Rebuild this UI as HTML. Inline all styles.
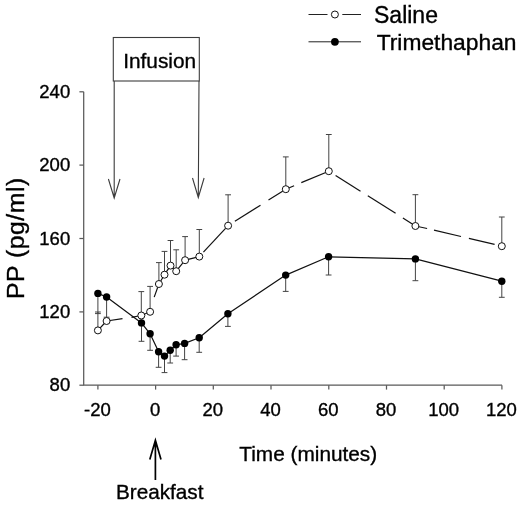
<!DOCTYPE html>
<html><head><meta charset="utf-8"><title>PP chart</title>
<style>html,body{margin:0;padding:0;background:#fff}svg{display:block}text{font-family:"Liberation Sans",Arial,Helvetica,sans-serif;fill:#000;stroke:#000;stroke-width:0.35px}</style></head><body>
<svg width="520" height="507" viewBox="0 0 520 507">
<rect width="520" height="507" fill="#fff"/>
<g stroke="#5a5a5a" stroke-width="1.25" fill="none">
<path d="M83.7,91.8V385.2H502"/>
<path d="M79.4,385.2H83.7"/>
<path d="M79.4,311.9H83.7"/>
<path d="M79.4,238.5H83.7"/>
<path d="M79.4,165.1H83.7"/>
<path d="M79.4,91.8H83.7"/>
<path d="M97.9,385.2V389.6"/>
<path d="M155.6,385.2V389.6"/>
<path d="M213.3,385.2V389.6"/>
<path d="M271.0,385.2V389.6"/>
<path d="M328.8,385.2V389.6"/>
<path d="M386.5,385.2V389.6"/>
<path d="M444.2,385.2V389.6"/>
<path d="M501.9,385.2V389.6"/>
</g>
<g stroke="#3c3c3c" stroke-width="1.1" fill="none">
<rect x="113.3" y="37.5" width="86" height="43.5"/>
<path d="M114.2,81V198M108.4,179L114.2,198L120,179"/>
<path d="M199,81L198.3,197.5M192.5,178L198.3,197.5L204.1,178"/>
</g>
<g stroke="#444" stroke-width="1" fill="none">
<path d="M97.9,330.4V312.0M95.0,312.0H100.8"/>
<path d="M141.3,315.5V291.6M138.4,291.6H144.2"/>
<path d="M150.1,311.8V286.4M147.2,286.4H153.0"/>
<path d="M158.9,284.0V262.6M156.0,262.6H161.8"/>
<path d="M164.5,274.7V251.4M161.6,251.4H167.4"/>
<path d="M170.5,265.6V240.5M167.6,240.5H173.4"/>
<path d="M176.2,271.2V249.8M173.3,249.8H179.1"/>
<path d="M185.1,260.2V236.6M182.2,236.6H188.0"/>
<path d="M199.3,256.6V229.5M196.4,229.5H202.2"/>
<path d="M228.1,225.7V194.8M225.2,194.8H231.0"/>
<path d="M285.8,189.2V156.9M282.9,156.9H288.7"/>
<path d="M328.8,171.2V134.5M325.9,134.5H331.7"/>
<path d="M415.4,226.0V194.7M412.5,194.7H418.3"/>
<path d="M501.8,246.2V217.0M498.9,217.0H504.7"/>
<path d="M97.9,293.4V313.6M95.0,313.6H100.8"/>
<path d="M106.6,297.0V317.2M103.7,317.2H109.5"/>
<path d="M141.5,322.9V341.3M138.6,341.3H144.4"/>
<path d="M150.1,333.8V350.3M147.2,350.3H153.0"/>
<path d="M158.6,351.8V367.3M155.7,367.3H161.5"/>
<path d="M164.5,356.1V372.6M161.6,372.6H167.4"/>
<path d="M170.2,350.3V363.0M167.3,363.0H173.1"/>
<path d="M176.1,344.8V356.1M173.2,356.1H179.0"/>
<path d="M184.6,343.4V359.7M181.7,359.7H187.5"/>
<path d="M199.2,337.7V352.3M196.3,352.3H202.1"/>
<path d="M227.9,313.8V326.4M225.0,326.4H230.8"/>
<path d="M285.7,275.1V291.4M282.8,291.4H288.6"/>
<path d="M328.6,256.8V275.0M325.7,275.0H331.5"/>
<path d="M415.4,258.9V280.7M412.5,280.7H418.3"/>
<path d="M501.8,281.2V297.3M498.9,297.3H504.7"/>
</g>
<g stroke="#111" stroke-width="1.2" fill="none" stroke-linejoin="round">
<polyline points="97.9,293.4 106.6,297.0 141.5,322.9 150.1,333.8 158.6,351.8 164.5,356.1 170.2,350.3 176.1,344.8 184.6,343.4 199.2,337.7 227.9,313.8 285.7,275.1 328.6,256.8 415.4,258.9 501.8,281.2"/>
<polyline points="97.9,330.4 106.6,321.0 122.5,318.7"/>
<polyline points="131.5,317.3 141.3,315.5 150.1,311.8"/>
<polyline points="154.2,297.1 158.9,284.0 164.5,274.7 170.5,265.6 176.2,271.2 185.1,260.2 199.3,256.6"/>
<polyline points="203.4,252.2 228.1,225.7"/>
<polyline points="234.9,221.2 260.5,205.2"/>
<polyline points="268.5,200.1 285.8,189.2 294.1,185.7"/>
<polyline points="301.3,182.6 328.8,171.2"/>
<polyline points="335.6,175.5 360.5,191.2"/>
<polyline points="367.8,195.7 395.6,213.3"/>
<polyline points="402.9,217.9 415.4,226.0 427.1,228.5"/>
<polyline points="434.0,230.1 461.0,236.5"/>
<polyline points="468.9,238.3 494.6,244.3"/>
</g>
<g stroke="#111" stroke-width="1" fill="#fff">
<circle cx="97.9" cy="330.4" r="3.5"/>
<circle cx="106.6" cy="321.0" r="3.5"/>
<circle cx="141.3" cy="315.5" r="3.5"/>
<circle cx="150.1" cy="311.8" r="3.5"/>
<circle cx="158.9" cy="284.0" r="3.5"/>
<circle cx="164.5" cy="274.7" r="3.5"/>
<circle cx="170.5" cy="265.6" r="3.5"/>
<circle cx="176.2" cy="271.2" r="3.5"/>
<circle cx="185.1" cy="260.2" r="3.5"/>
<circle cx="199.3" cy="256.6" r="3.5"/>
<circle cx="228.1" cy="225.7" r="3.5"/>
<circle cx="285.8" cy="189.2" r="3.5"/>
<circle cx="328.8" cy="171.2" r="3.5"/>
<circle cx="415.4" cy="226.0" r="3.5"/>
<circle cx="501.8" cy="246.2" r="3.5"/>
</g><g fill="#000">
<circle cx="97.9" cy="293.4" r="3.7"/>
<circle cx="106.6" cy="297.0" r="3.7"/>
<circle cx="141.5" cy="322.9" r="3.7"/>
<circle cx="150.1" cy="333.8" r="3.7"/>
<circle cx="158.6" cy="351.8" r="3.7"/>
<circle cx="164.5" cy="356.1" r="3.7"/>
<circle cx="170.2" cy="350.3" r="3.7"/>
<circle cx="176.1" cy="344.8" r="3.7"/>
<circle cx="184.6" cy="343.4" r="3.7"/>
<circle cx="199.2" cy="337.7" r="3.7"/>
<circle cx="227.9" cy="313.8" r="3.7"/>
<circle cx="285.7" cy="275.1" r="3.7"/>
<circle cx="328.6" cy="256.8" r="3.7"/>
<circle cx="415.4" cy="258.9" r="3.7"/>
<circle cx="501.8" cy="281.2" r="3.7"/>
</g>
<g stroke="#222" stroke-width="1" fill="none"><path d="M308.5,14.5H327.5M342.3,14.5H361M308.5,41.8H361"/></g>
<circle cx="334.9" cy="14.5" r="3.5" fill="#fff" stroke="#111" stroke-width="1"/>
<circle cx="334.9" cy="41.8" r="3.9" fill="#000"/>
<text x="374" y="22.9" font-size="23">Saline</text>
<text x="376.7" y="50.1" font-size="22.8">Trimethaphan</text>
<text x="70.2" y="391.2" font-size="18.5" text-anchor="end">80</text>
<text x="70.2" y="317.9" font-size="18.5" text-anchor="end">120</text>
<text x="70.2" y="244.5" font-size="18.5" text-anchor="end">160</text>
<text x="70.2" y="171.1" font-size="18.5" text-anchor="end">200</text>
<text x="70.2" y="97.8" font-size="18.5" text-anchor="end">240</text>
<text x="97.4" y="415.5" font-size="18.5" text-anchor="middle">-20</text>
<text x="155.1" y="415.5" font-size="18.5" text-anchor="middle">0</text>
<text x="212.8" y="415.5" font-size="18.5" text-anchor="middle">20</text>
<text x="270.5" y="415.5" font-size="18.5" text-anchor="middle">40</text>
<text x="328.3" y="415.5" font-size="18.5" text-anchor="middle">60</text>
<text x="386.0" y="415.5" font-size="18.5" text-anchor="middle">80</text>
<text x="443.7" y="415.5" font-size="18.5" text-anchor="middle">100</text>
<text x="501.4" y="415.5" font-size="18.5" text-anchor="middle">120</text>
<text x="123.2" y="68" font-size="20.8">Infusion</text>
<text x="239.3" y="460.8" font-size="20.8">Time (minutes)</text>
<text x="116" y="498.6" font-size="20.7">Breakfast</text>
<text transform="translate(24,299) rotate(-90)" font-size="24.8" letter-spacing="0.5">PP (pg/ml)</text>
<g stroke="#000" stroke-width="1.7" fill="none"><path d="M155.4,480V441M149.8,459.5L155.4,440.2L161,459.5"/></g>
</svg></body></html>
